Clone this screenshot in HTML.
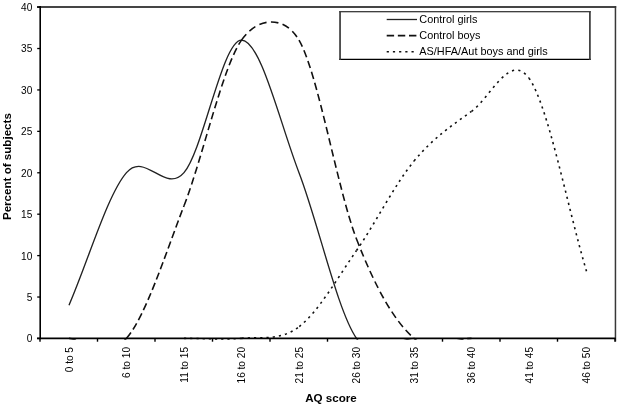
<!DOCTYPE html>
<html><head><meta charset="utf-8"><style>
html,body{margin:0;padding:0;background:#fff;width:617px;height:405px;overflow:hidden}
svg{display:block}
.tl{font-family:"Liberation Sans",Arial,sans-serif;font-size:10.1px;fill:#000}
.lg{font-family:"Liberation Sans",Arial,sans-serif;font-size:10.9px;fill:#000}
.ti{font-family:"Liberation Sans",Arial,sans-serif;font-size:11.6px;font-weight:bold;fill:#000}
</style></head><body>
<svg xmlns="http://www.w3.org/2000/svg" width="617" height="405" viewBox="0 0 617 405">
<line x1="37" y1="7.0" x2="616.2" y2="7.0" stroke="#454545" stroke-width="1.8"/>
<line x1="615.45" y1="6.1" x2="615.45" y2="341.6" stroke="#383838" stroke-width="1.5"/>
<line x1="37.2" y1="338.45" x2="40" y2="338.45" stroke="#000" stroke-width="1.3"/>
<text x="32.3" y="342.40" class="tl" text-anchor="end">0</text>
<line x1="37.2" y1="297.03" x2="40" y2="297.03" stroke="#000" stroke-width="1.3"/>
<text x="32.3" y="300.98" class="tl" text-anchor="end">5</text>
<line x1="37.2" y1="255.61" x2="40" y2="255.61" stroke="#000" stroke-width="1.3"/>
<text x="32.3" y="259.56" class="tl" text-anchor="end">10</text>
<line x1="37.2" y1="214.19" x2="40" y2="214.19" stroke="#000" stroke-width="1.3"/>
<text x="32.3" y="218.14" class="tl" text-anchor="end">15</text>
<line x1="37.2" y1="172.78" x2="40" y2="172.78" stroke="#000" stroke-width="1.3"/>
<text x="32.3" y="176.72" class="tl" text-anchor="end">20</text>
<line x1="37.2" y1="131.36" x2="40" y2="131.36" stroke="#000" stroke-width="1.3"/>
<text x="32.3" y="135.31" class="tl" text-anchor="end">25</text>
<line x1="37.2" y1="89.94" x2="40" y2="89.94" stroke="#000" stroke-width="1.3"/>
<text x="32.3" y="93.89" class="tl" text-anchor="end">30</text>
<line x1="37.2" y1="48.52" x2="40" y2="48.52" stroke="#000" stroke-width="1.3"/>
<text x="32.3" y="52.47" class="tl" text-anchor="end">35</text>
<line x1="37.2" y1="7.10" x2="40" y2="7.10" stroke="#000" stroke-width="1.3"/>
<text x="32.3" y="11.05" class="tl" text-anchor="end">40</text>
<line x1="40.00" y1="338" x2="40.00" y2="341.7" stroke="#000" stroke-width="1.4"/>
<line x1="97.50" y1="338" x2="97.50" y2="341.7" stroke="#000" stroke-width="1.4"/>
<line x1="155.00" y1="338" x2="155.00" y2="341.7" stroke="#000" stroke-width="1.4"/>
<line x1="212.50" y1="338" x2="212.50" y2="341.7" stroke="#000" stroke-width="1.4"/>
<line x1="270.00" y1="338" x2="270.00" y2="341.7" stroke="#000" stroke-width="1.4"/>
<line x1="327.50" y1="338" x2="327.50" y2="341.7" stroke="#000" stroke-width="1.4"/>
<line x1="442.50" y1="338" x2="442.50" y2="341.7" stroke="#000" stroke-width="1.4"/>
<line x1="500.00" y1="338" x2="500.00" y2="341.7" stroke="#000" stroke-width="1.4"/>
<line x1="557.50" y1="338" x2="557.50" y2="341.7" stroke="#000" stroke-width="1.4"/>
<line x1="615.00" y1="338" x2="615.00" y2="341.7" stroke="#000" stroke-width="1.4"/>
<defs><clipPath id="pc"><rect x="40" y="6" width="575.5" height="333.8"/></clipPath></defs><g clip-path="url(#pc)"><g transform="translate(0.25,0)">
<path d="M68.75,305.22 C87.92,261.04 107.08,194.77 126.25,172.68 C145.09,150.96 164.91,194.39 183.75,172.68 C202.92,150.59 222.08,40.13 241.25,40.13 C260.42,40.13 279.58,122.97 298.75,172.68 C317.92,222.38 337.08,310.74 356.25,338.35 C372.64,361.97 397.36,338.35 413.75,338.35" fill="none" stroke="#222" stroke-width="1.35"/>
<path d="M68.75,338.35 C78.17,338.35 107.41,360.07 126.25,338.35" fill="none" stroke="#111" stroke-width="1.6" stroke-dasharray="7.40,3.75"/>
<path d="M126.25,338.35 C145.42,316.26 164.58,255.51 183.75,205.81" fill="none" stroke="#111" stroke-width="1.6" stroke-dasharray="7.40,3.65"/>
<path d="M183.75,205.81 C202.92,156.11 222.08,67.75 241.25,40.13" fill="none" stroke="#111" stroke-width="1.6" stroke-dasharray="7.40,3.95"/>
<path d="M241.25,40.13 C257.64,16.52 284.35,15.25 298.75,40.13" fill="none" stroke="#111" stroke-width="1.6" stroke-dasharray="7.50,4.45"/>
<path d="M298.75,40.13 C317.92,73.27 337.08,189.24 356.25,238.95" fill="none" stroke="#111" stroke-width="1.6" stroke-dasharray="7.40,4.02"/>
<path d="M356.25,238.95 C375.42,288.65 394.58,321.78 413.75,338.35" fill="none" stroke="#111" stroke-width="1.6" stroke-dasharray="7.40,4.15"/>
<path d="M413.75,338.35 C432.92,354.92 452.08,338.35 471.25,338.35" fill="none" stroke="#111" stroke-width="1.6" stroke-dasharray="7.40,3.75"/>
<path d="M183.75,338.35 C202.92,338.35 222.08,340.28 241.25,338.35" fill="none" stroke="#111" stroke-width="1.6" stroke-dasharray="2.2,4.00" stroke-dashoffset="0.00"/>
<path d="M241.25,338.35 C260.42,336.42 279.58,341.39 298.75,326.75" fill="none" stroke="#111" stroke-width="1.6" stroke-dasharray="2.2,4.05" stroke-dashoffset="0.00"/>
<path d="M298.75,326.75 C317.92,312.12 337.08,278.15 356.25,250.54" fill="none" stroke="#111" stroke-width="1.6" stroke-dasharray="2.2,4.05" stroke-dashoffset="5.85"/>
<path d="M356.25,250.54 C375.42,222.93 394.58,184.27 413.75,161.08" fill="none" stroke="#111" stroke-width="1.6" stroke-dasharray="2.2,4.02" stroke-dashoffset="0.00"/>
<path d="M413.75,161.08 C432.92,137.88 452.08,125.18 471.25,111.38" fill="none" stroke="#111" stroke-width="1.6" stroke-dasharray="2.2,4.00" stroke-dashoffset="0.00"/>
<path d="M471.25,111.38 C490.42,97.57 509.58,51.59 528.75,78.24" fill="none" stroke="#111" stroke-width="1.6" stroke-dasharray="2.2,4.20" stroke-dashoffset="0.00"/>
<path d="M528.75,78.24 C547.92,104.89 567.08,206.91 586.25,271.25" fill="none" stroke="#111" stroke-width="1.6" stroke-dasharray="2.2,4.04" stroke-dashoffset="0.00"/>
</g></g>
<line x1="40.2" y1="6" x2="40.2" y2="339.2" stroke="#000" stroke-width="1.6"/>
<line x1="37" y1="338.35" x2="615.5" y2="338.35" stroke="#000" stroke-width="1.6"/>
<text transform="translate(72.55,347) rotate(-90)" class="tl" text-anchor="end">0 to 5</text>
<text transform="translate(130.05,347) rotate(-90)" class="tl" text-anchor="end">6 to 10</text>
<text transform="translate(187.55,347) rotate(-90)" class="tl" text-anchor="end">11 to 15</text>
<text transform="translate(245.05,347) rotate(-90)" class="tl" text-anchor="end">16 to 20</text>
<text transform="translate(302.55,347) rotate(-90)" class="tl" text-anchor="end">21 to 25</text>
<text transform="translate(360.05,347) rotate(-90)" class="tl" text-anchor="end">26 to 30</text>
<text transform="translate(417.55,347) rotate(-90)" class="tl" text-anchor="end">31 to 35</text>
<text transform="translate(475.05,347) rotate(-90)" class="tl" text-anchor="end">36 to 40</text>
<text transform="translate(532.55,347) rotate(-90)" class="tl" text-anchor="end">41 to 45</text>
<text transform="translate(590.05,347) rotate(-90)" class="tl" text-anchor="end">46 to 50</text>
<text x="331" y="402.4" class="ti" text-anchor="middle">AQ score</text>
<text transform="translate(10.9,166.6) rotate(-90)" class="ti" text-anchor="middle">Percent of subjects</text>
<rect x="340" y="11.7" width="249.9" height="47.7" fill="#fff"/>
<line x1="339.2" y1="11.7" x2="590.75" y2="11.7" stroke="#000" stroke-width="1.1"/>
<line x1="339.2" y1="59.4" x2="590.75" y2="59.4" stroke="#000" stroke-width="1.1"/>
<line x1="340.05" y1="11.2" x2="340.05" y2="59.9" stroke="#3a3a3a" stroke-width="1.7"/>
<line x1="589.9" y1="11.2" x2="589.9" y2="59.9" stroke="#3a3a3a" stroke-width="1.7"/>
<line x1="386.7" y1="19.5" x2="417" y2="19.5" stroke="#222" stroke-width="1.3"/>
<line x1="386.7" y1="35.6" x2="417.1" y2="35.6" stroke="#111" stroke-width="1.6" stroke-dasharray="7.4,3.75"/>
<line x1="386.7" y1="51.7" x2="417" y2="51.7" stroke="#111" stroke-width="1.6" stroke-dasharray="2.2,4.0"/>
<text x="419.3" y="23.4" class="lg">Control girls</text>
<text x="419.3" y="39.3" class="lg">Control boys</text>
<text x="419.3" y="55.2" class="lg">AS/HFA/Aut boys and girls</text>
</svg>
</body></html>
